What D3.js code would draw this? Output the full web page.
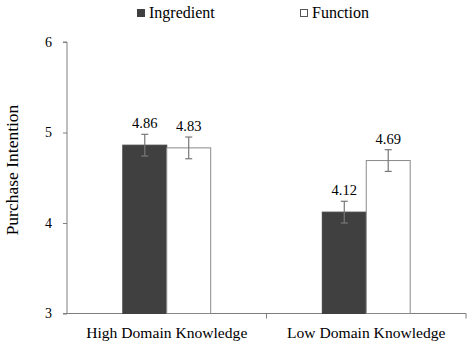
<!DOCTYPE html>
<html>
<head>
<meta charset="utf-8">
<script src="https://cdn.jsdelivr.net/npm/d3@7"></script>
<style>
  body { margin: 0; background: #fff; }
</style>
</head>
<body>
<script>
/*data*/
const groups = ['High Domain Knowledge', 'Low Domain Knowledge'];
const series = ['Ingredient', 'Function'];
const ingredient = [4.86, 4.12];
const func = [4.83, 4.69];
const ingredientErr = [0.12, 0.12];
const funcErr = [0.12, 0.12];
const yTicks = [3, 4, 5, 6];

const data = [];
groups.forEach((g, i) => {
    data.push({ group: g, key: 'Ingredient', value: ingredient[i], err: ingredientErr[i] });
    data.push({ group: g, key: 'Function', value: func[i], err: funcErr[i] });
});

const font = '"Liberation Serif", "Times New Roman", Times, serif';

/*canvas size*/
const width = 474;
const height = 348;
const padding = { top: 42, bottom: 34.5, left: 67, right: 8 };

const svg = d3.select('body').append('svg')
    .attr('width', width).attr('height', height)
    .style('font-family', font);

/*scales*/
const xScale = d3.scaleBand()
    .domain(groups)
    .range([padding.left, width - padding.right])
    .paddingInner(0).paddingOuter(0);
const xSub = d3.scaleBand()
    .domain(series)
    .range([0, xScale.bandwidth()])
    .paddingInner(0)
    .paddingOuter(1.27);
const yScale = d3.scaleLinear()
    .domain([3, 6])
    .range([height - padding.bottom, padding.top]);

const axisColor = '#7f7f7f';

/*y axis*/
const yAxis = svg.append('g')
    .attr('transform', `translate(${padding.left},0)`)
    .call(d3.axisLeft(yScale).tickValues(yTicks).tickSize(4).tickPadding(11).tickFormat(d3.format('d')));
yAxis.attr('font-family', null);
yAxis.selectAll('path, line').attr('stroke', axisColor);
yAxis.select('.domain').attr('d', `M-4,${yScale(6)}H0V${yScale(3)}H-4`);
yAxis.selectAll('text').attr('font-size', 14).style('font-family', font);

/*x axis*/
const xAxis = svg.append('g')
    .attr('transform', `translate(0,${height - padding.bottom})`)
    .call(d3.axisBottom(xScale).tickSize(0).tickPadding(13));
xAxis.attr('font-family', null);
xAxis.select('.domain').attr('stroke', axisColor)
    .attr('d', `M${padding.left},0H${width - padding.right}V5`);
xAxis.selectAll('text').attr('font-size', 15.6).style('font-family', font);
/*separator ticks between groups*/
svg.append('g').selectAll('line').data(groups.slice(1)).enter().append('line')
    .attr('x1', d => xScale(d)).attr('x2', d => xScale(d))
    .attr('y1', height - padding.bottom).attr('y2', height - padding.bottom + 5)
    .attr('stroke', axisColor);

/*bars*/
const fills = { Ingredient: '#404040', Function: '#ffffff' };
const strokes = { Ingredient: '#404040', Function: '#8a8a8a' };
const barX = d => xScale(d.group) + xSub(d.key);
svg.append('g').selectAll('rect').data(data).enter().append('rect')
    .attr('x', barX)
    .attr('y', d => yScale(d.value))
    .attr('width', xSub.bandwidth())
    .attr('height', d => yScale(3) - yScale(d.value))
    .attr('fill', d => fills[d.key])
    .attr('stroke', d => strokes[d.key])
    .attr('stroke-width', 1);

/*error bars*/
const errG = svg.append('g').attr('stroke', '#777').attr('stroke-width', 1.2);
data.forEach(d => {
    const cx = barX(d) + xSub.bandwidth() / 2;
    const y1 = yScale(d.value + d.err), y2 = yScale(d.value - d.err);
    errG.append('line').attr('x1', cx).attr('x2', cx).attr('y1', y1).attr('y2', y2);
    errG.append('line').attr('x1', cx - 3.5).attr('x2', cx + 3.5).attr('y1', y1).attr('y2', y1);
    errG.append('line').attr('x1', cx - 3.5).attr('x2', cx + 3.5).attr('y1', y2).attr('y2', y2);
});

/*value labels*/
svg.append('g').selectAll('text').data(data).enter().append('text')
    .attr('x', d => barX(d) + xSub.bandwidth() / 2)
    .attr('y', d => yScale(d.value + d.err) - 6)
    .attr('text-anchor', 'middle')
    .attr('font-size', 14.5)
    .style('font-family', font)
    .text(d => d.value.toFixed(2));

/*legend*/
const legendX = [137, 300];
const legend = svg.append('g').selectAll('g').data(series).enter().append('g')
    .attr('transform', (d, i) => `translate(${legendX[i]},0)`);
legend.append('rect')
    .attr('x', 0.5).attr('y', 9.5).attr('width', 7).attr('height', 7)
    .attr('fill', d => fills[d]).attr('stroke', d => d === 'Function' ? '#555' : '#404040');
legend.append('text')
    .attr('x', 12).attr('y', 17.5)
    .attr('font-size', 16)
    .style('font-family', font)
    .text(d => d);

/*y title*/
svg.append('text')
    .attr('transform', 'rotate(-90)')
    .attr('x', -170).attr('y', 18)
    .attr('text-anchor', 'middle')
    .attr('font-size', 17.5)
    .style('font-family', font)
    .text('Purchase Intention');
</script>
</body>
</html>
